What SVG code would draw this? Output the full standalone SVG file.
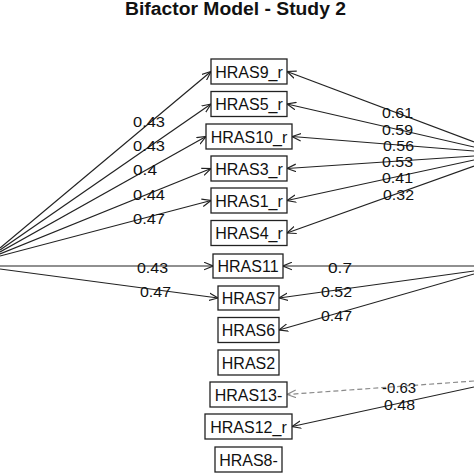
<svg xmlns="http://www.w3.org/2000/svg" width="474" height="474" viewBox="0 0 474 474">
<style>
.bg{fill:#fff}
.box{fill:#fff;stroke:#222;stroke-width:1.3}
.nt{font-family:"Liberation Sans",Arial,sans-serif;font-size:16px;fill:#111;text-anchor:middle}
.et{font-family:"Liberation Sans",Arial,sans-serif;font-size:15px;fill:#111}
.title{font-family:"Liberation Sans",Arial,sans-serif;font-size:18px;font-weight:bold;fill:#111;text-anchor:middle}
.e{stroke:#222;stroke-width:1.2;fill:none;marker-end:url(#arr)}
.d{stroke:#8a8a8a;stroke-width:1.2;fill:none;stroke-dasharray:5,3;marker-end:url(#arrg)}
</style>
<defs>
<marker id="arr" viewBox="0 0 10 10" refX="10" refY="5" markerWidth="9" markerHeight="9" markerUnits="userSpaceOnUse" orient="auto"><path d="M0,0.8 L10,5 L0,9.2" fill="none" stroke="#222" stroke-width="1.3"/></marker>
<marker id="arrg" viewBox="0 0 10 10" refX="10" refY="5" markerWidth="9" markerHeight="9" markerUnits="userSpaceOnUse" orient="auto"><path d="M0,0.8 L10,5 L0,9.2" fill="none" stroke="#8a8a8a" stroke-width="1.3"/></marker>
</defs>
<rect class="bg" x="0" y="0" width="474" height="474"/>
<text class="title" x="235.5" y="15" textLength="221" lengthAdjust="spacingAndGlyphs">Bifactor Model - Study 2</text>
<g id="connectors">
<line class="e" x1="0" y1="248" x2="211" y2="71.5"/>
<line class="e" x1="0" y1="250" x2="211" y2="104"/>
<line class="e" x1="0" y1="252" x2="206" y2="136.5"/>
<line class="e" x1="0" y1="254" x2="211" y2="168.5"/>
<line class="e" x1="0" y1="256" x2="211" y2="200.5"/>
<line class="e" x1="0" y1="266" x2="213" y2="266"/>
<line class="e" x1="0" y1="269" x2="218" y2="298"/>
<line class="e" x1="474" y1="142" x2="287" y2="71.5"/>
<line class="e" x1="474" y1="147" x2="287" y2="104"/>
<line class="e" x1="474" y1="151" x2="292" y2="136.5"/>
<line class="e" x1="474" y1="156" x2="287" y2="168.5"/>
<line class="e" x1="474" y1="160" x2="287" y2="200.5"/>
<line class="e" x1="474" y1="166" x2="287" y2="233"/>
<line class="e" x1="474" y1="266" x2="283" y2="266"/>
<line class="e" x1="474" y1="271" x2="279" y2="298"/>
<line class="e" x1="474" y1="274" x2="279" y2="330"/>
<line class="d" x1="474" y1="381" x2="287" y2="394.5"/>
<line class="e" x1="474" y1="387" x2="292" y2="426.5"/>
<text class="et" x="133" y="127" textLength="32" lengthAdjust="spacingAndGlyphs">0.43</text>
<text class="et" x="133" y="151" textLength="32" lengthAdjust="spacingAndGlyphs">0.43</text>
<text class="et" x="133" y="175" textLength="24" lengthAdjust="spacingAndGlyphs">0.4</text>
<text class="et" x="133" y="200" textLength="32" lengthAdjust="spacingAndGlyphs">0.44</text>
<text class="et" x="133" y="224" textLength="32" lengthAdjust="spacingAndGlyphs">0.47</text>
<text class="et" x="137" y="273" textLength="31" lengthAdjust="spacingAndGlyphs">0.43</text>
<text class="et" x="140" y="297" textLength="31" lengthAdjust="spacingAndGlyphs">0.47</text>
<text class="et" x="382" y="117.5" textLength="31" lengthAdjust="spacingAndGlyphs">0.61</text>
<text class="et" x="382" y="134.5" textLength="31" lengthAdjust="spacingAndGlyphs">0.59</text>
<text class="et" x="383" y="150.5" textLength="31" lengthAdjust="spacingAndGlyphs">0.56</text>
<text class="et" x="382" y="166.5" textLength="31" lengthAdjust="spacingAndGlyphs">0.53</text>
<text class="et" x="382" y="182.5" textLength="31" lengthAdjust="spacingAndGlyphs">0.41</text>
<text class="et" x="383" y="199.5" textLength="31" lengthAdjust="spacingAndGlyphs">0.32</text>
<text class="et" x="328" y="273" textLength="24" lengthAdjust="spacingAndGlyphs">0.7</text>
<text class="et" x="321" y="297" textLength="31" lengthAdjust="spacingAndGlyphs">0.52</text>
<text class="et" x="321" y="321" textLength="31" lengthAdjust="spacingAndGlyphs">0.47</text>
<text class="et" x="382" y="393" textLength="34" lengthAdjust="spacingAndGlyphs">-0.63</text>
<text class="et" x="384" y="410" textLength="31" lengthAdjust="spacingAndGlyphs">0.48</text>
</g>
<g id="HRAS9_r"><rect class="box" x="211" y="59" width="76" height="25"/><text class="nt" x="249" y="77.5">HRAS9_r</text></g>
<g id="HRAS5_r"><rect class="box" x="211" y="91.5" width="76" height="25"/><text class="nt" x="249" y="110">HRAS5_r</text></g>
<g id="HRAS10_r"><rect class="box" x="206" y="124" width="86" height="25"/><text class="nt" x="249" y="142.5">HRAS10_r</text></g>
<g id="HRAS3_r"><rect class="box" x="211" y="156" width="76" height="25"/><text class="nt" x="249" y="174.5">HRAS3_r</text></g>
<g id="HRAS1_r"><rect class="box" x="211" y="188" width="76" height="25"/><text class="nt" x="249" y="206.5">HRAS1_r</text></g>
<g id="HRAS4_r"><rect class="box" x="211" y="220.5" width="76" height="25"/><text class="nt" x="249" y="239">HRAS4_r</text></g>
<g id="HRAS11"><rect class="box" x="213" y="254" width="70" height="24"/><text class="nt" x="248" y="272">HRAS11</text></g>
<g id="HRAS7"><rect class="box" x="218" y="286" width="61" height="24"/><text class="nt" x="248.5" y="304">HRAS7</text></g>
<g id="HRAS6"><rect class="box" x="218" y="317.5" width="61" height="25"/><text class="nt" x="248.5" y="336">HRAS6</text></g>
<g id="HRAS2"><rect class="box" x="218" y="350" width="61" height="25"/><text class="nt" x="248.5" y="368.5">HRAS2</text></g>
<g id="HRAS13-"><rect class="box" x="210" y="382" width="77" height="25"/><text class="nt" x="248.5" y="400.5">HRAS13-</text></g>
<g id="HRAS12_r"><rect class="box" x="205" y="414" width="87" height="25"/><text class="nt" x="248.5" y="432.5">HRAS12_r</text></g>
<g id="HRAS8-"><rect class="box" x="215" y="447" width="67" height="25"/><text class="nt" x="248.5" y="465.5">HRAS8-</text></g>
</svg>
